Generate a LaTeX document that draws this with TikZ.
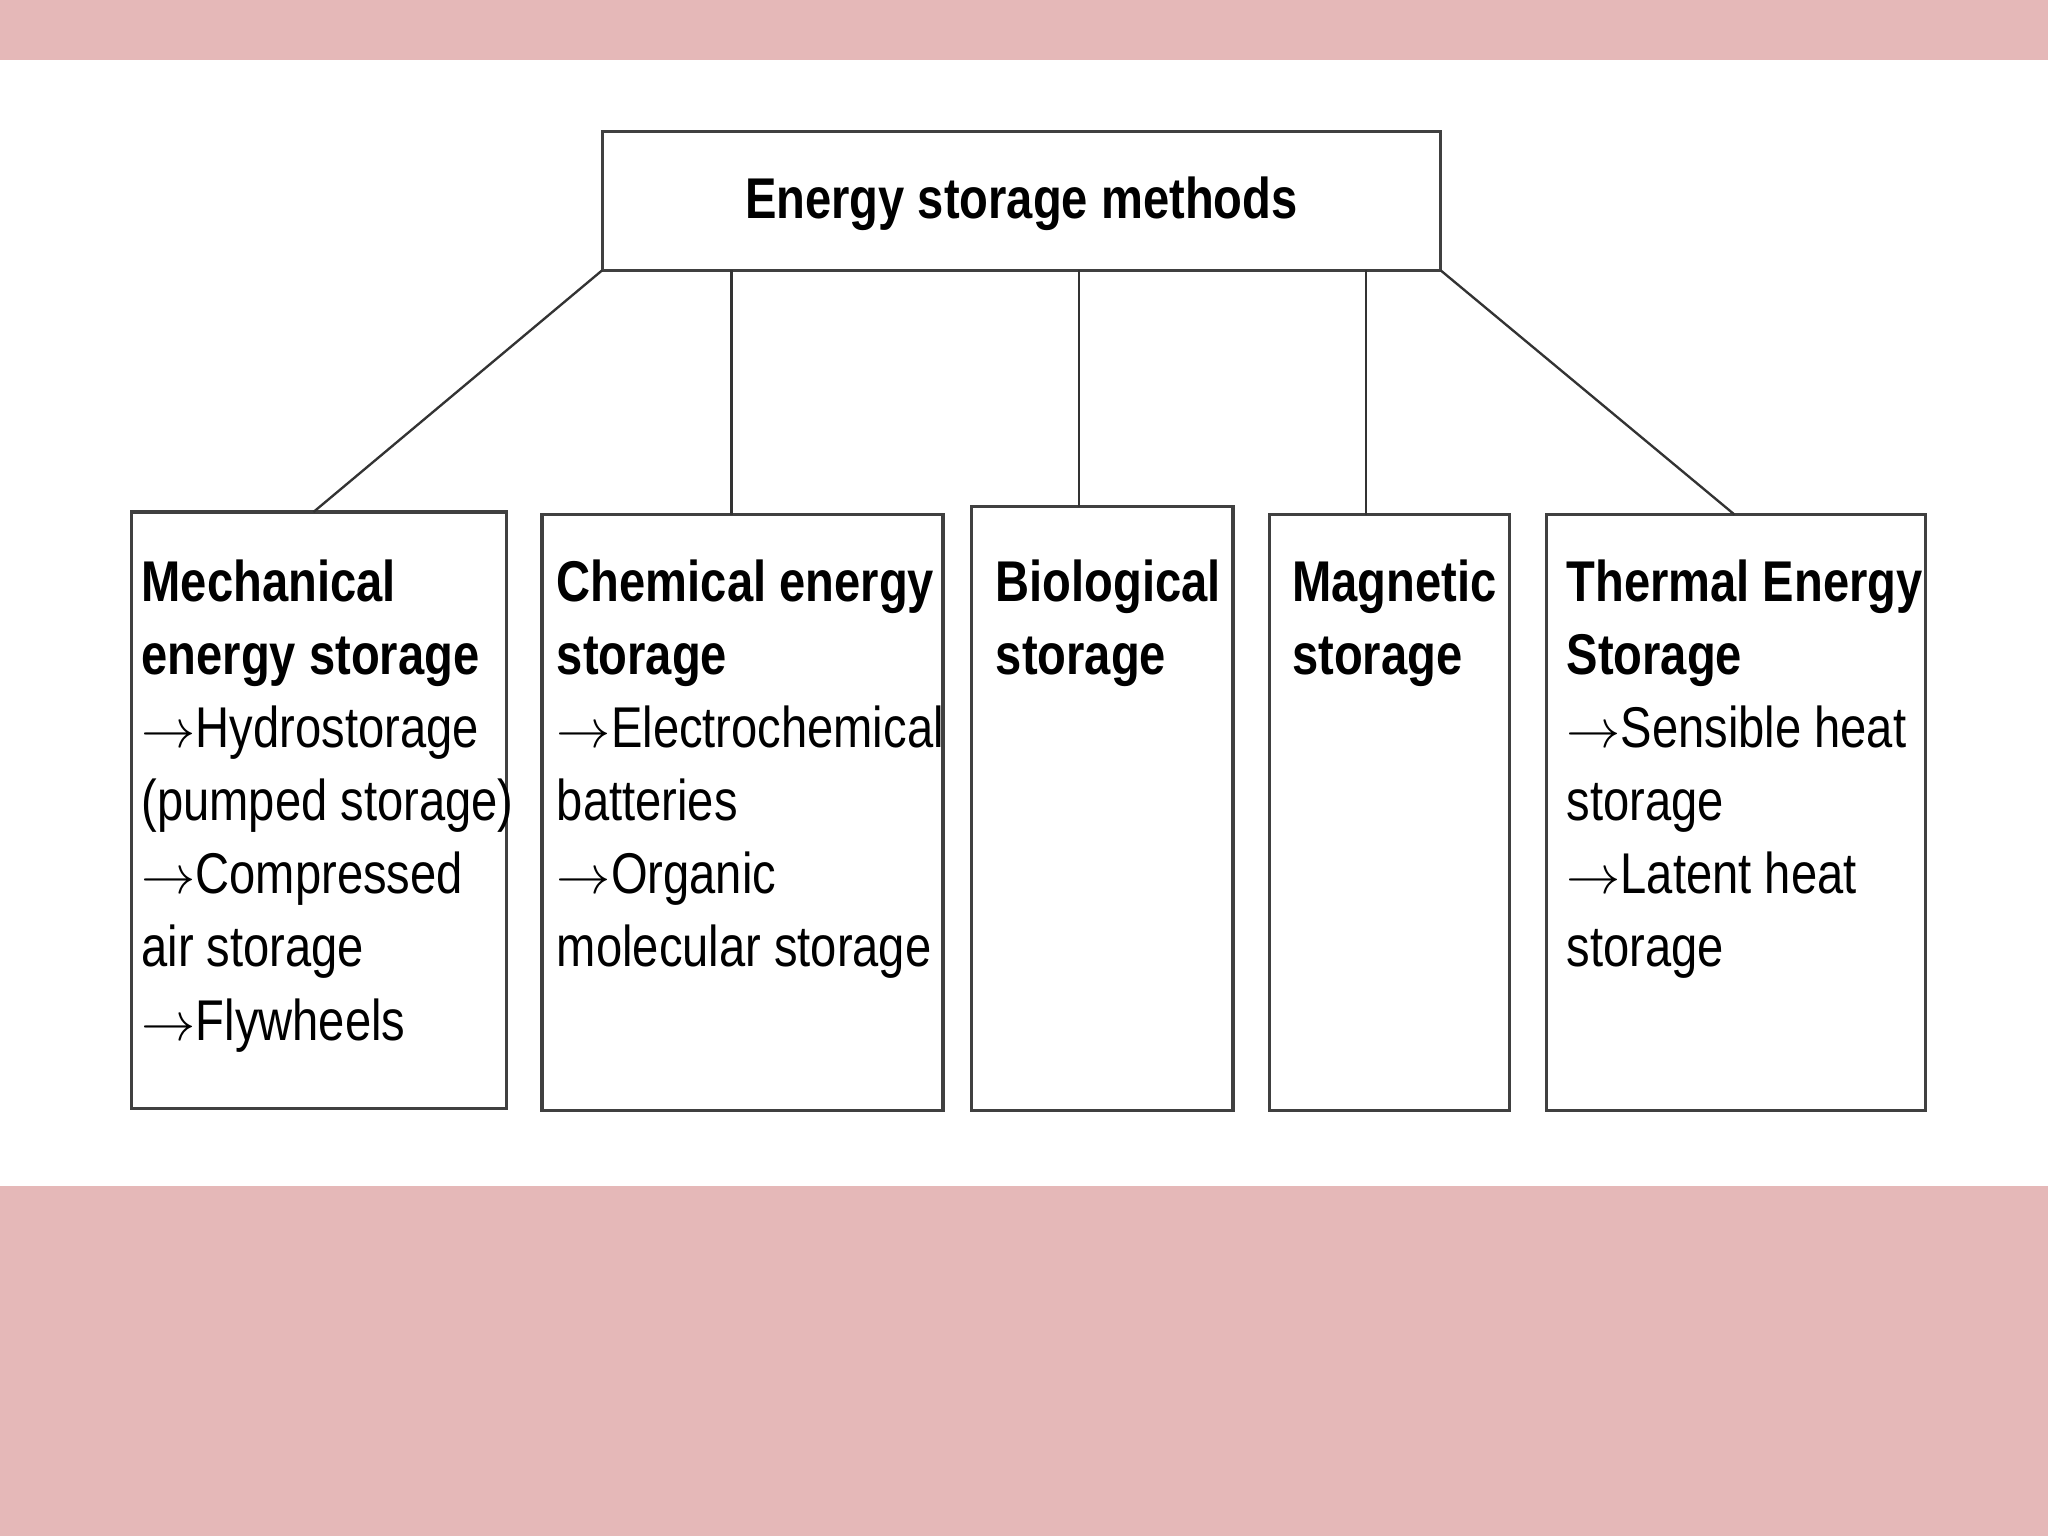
\documentclass[tikz,border=0pt]{standalone}
\usepackage{fontspec}
\setmainfont{Liberation Sans}[FakeStretch=0.82]
\begin{document}
\begin{tikzpicture}[x=0.5pt,y=-0.5pt,
  bx/.style={draw=black!75,line width=1.2pt},
  ln/.style={draw=black!80,line width=0.9pt},
  txt/.style={anchor=north west,align=left,inner sep=0pt,font=\fontsize{22}{28}\selectfont}]
\definecolor{pinkbg}{HTML}{E5B8B8}
\useasboundingbox (0,0) rectangle (1568,1176);
\fill[pinkbg] (0,0) rectangle (1568,46);
\fill[pinkbg] (0,908) rectangle (1568,1176);
\draw[bx] (461,101) rectangle (1103,207);
\node[font=\fontsize{22}{28}\selectfont\bfseries] (top) at (782,156) {Energy storage methods};
\coordinate (tl) at (461,207); \coordinate (tr) at (1103,207);
\coordinate (t2) at (560,207); \coordinate (t3) at (826,207); \coordinate (t4) at (1046,207);
\draw[bx] (101,392) rectangle (388,849);
\draw[bx] (415,394) rectangle (722,850);
\draw[bx] (744,388) rectangle (944,850);
\draw[bx] (972,394) rectangle (1156,850);
\draw[bx] (1184,394) rectangle (1474,850);
\coordinate (b1) at (240,392); \coordinate (b2) at (560,394); \coordinate (b3) at (826,388);
\coordinate (b4) at (1046,394); \coordinate (b5) at (1328,394);
\draw[ln] (tl)--(b1); \draw[ln] (t2)--(b2); \draw[ln] (t3)--(b3); \draw[ln] (t4)--(b4); \draw[ln] (tr)--(b5);
\node[txt] (m) at (108,428) {\textbf{Mechanical}\\\textbf{energy storage}\\$\rightarrow$Hydrostorage\\(pumped storage)\\$\rightarrow$Compressed\\air storage\\$\rightarrow$Flywheels};
\node[txt] (c) at (426,428) {\textbf{Chemical energy}\\\textbf{storage}\\$\rightarrow$Electrochemical\\batteries\\$\rightarrow$Organic\\molecular storage};
\node[txt] (bi) at (762,428) {\textbf{Biological}\\\textbf{storage}};
\node[txt] (mg) at (989,428) {\textbf{Magnetic}\\\textbf{storage}};
\node[txt] (th) at (1199,428) {\textbf{Thermal Energy}\\\textbf{Storage}\\$\rightarrow$Sensible heat\\storage\\$\rightarrow$Latent heat\\storage};
\end{tikzpicture}
\end{document}
